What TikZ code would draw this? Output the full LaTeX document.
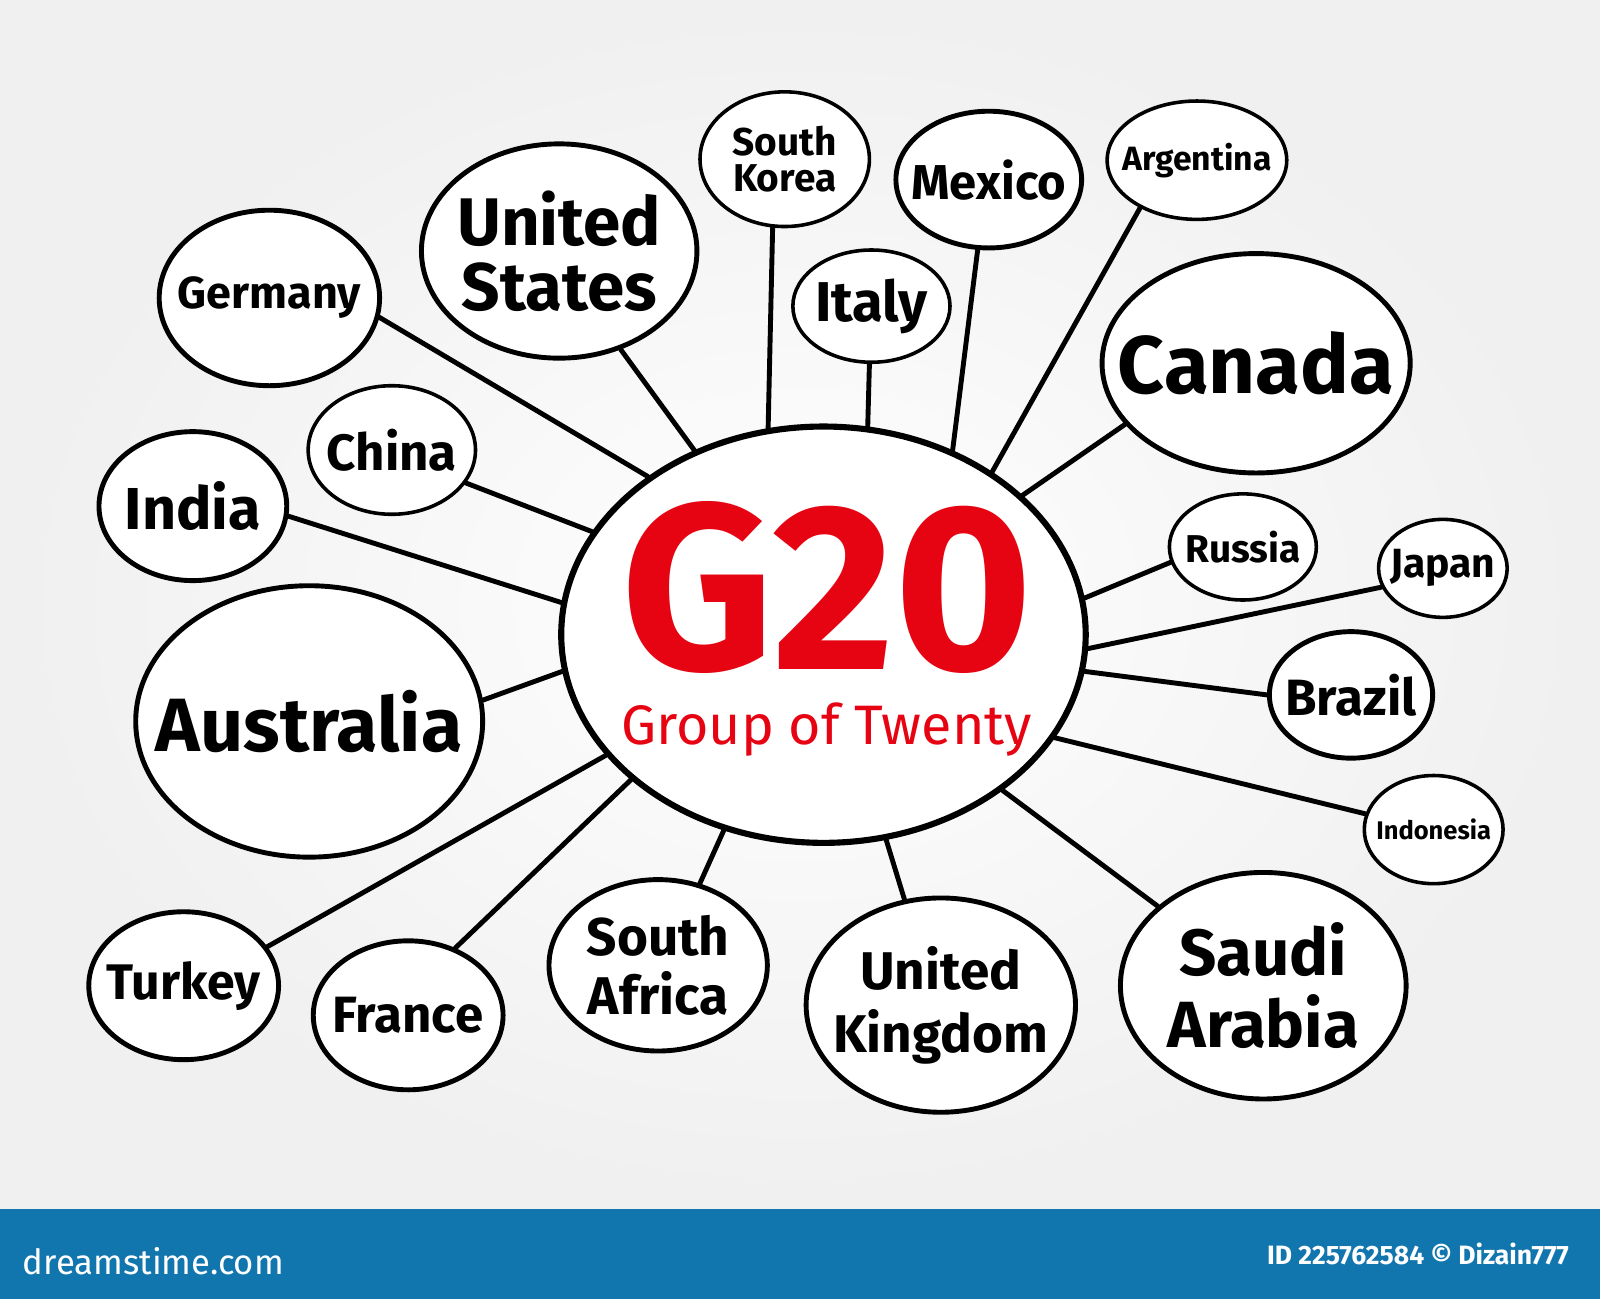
\documentclass[tikz,border=0pt]{standalone}
\usepackage{fontspec}
\setmainfont{Fira Sans}
\usetikzlibrary{shapes.geometric}
\definecolor{gred}{RGB}{230,4,18}
\definecolor{banner}{RGB}{17,118,174}
\tikzset{
  bub/.style={draw=black, line width=4.8pt, ellipse, fill=white, inner sep=0pt},
  thin bub/.style={bub, line width=3.5pt},
  lab/.style={inner sep=0pt, align=center, text=black},
  conn/.style={line width=4.8pt, line cap=round},
}
\newcommand{\fs}[1]{\fontsize{#1}{#1}\selectfont}
\newcommand{\fsl}[2]{\fontsize{#1}{#2}\selectfont}
\begin{document}
\begin{tikzpicture}[x=1pt,y=-1pt]
\useasboundingbox (0,0) rectangle (1568,1273);
\shade[inner color=white, outer color=black!6] (0,0) rectangle (1568,1185);
\fill[banner] (0,1185) rectangle (1568,1273);
\node[anchor=west, text=white, font=\fs{34}] (dt) at (19,1236) {dreamstime.com};
\node[anchor=east, text=white, font=\fs{26}\bfseries] (id) at (1541,1229) {ID 225762584 © Dizain777};

% bubbles
\node[bub, line width=6pt, minimum width=514pt, minimum height=408pt] (g20) at (807,622) {};
\node[bub, minimum width=216pt, minimum height=172pt] (ger) at (264,292) {};
\node[bub, minimum width=270pt, minimum height=210pt] (us) at (548,246) {};
\node[thin bub, minimum width=166pt, minimum height=132pt] (sk) at (769,156) {};
\node[bub, minimum width=182pt, minimum height=134pt] (mex) at (969,176) {};
\node[thin bub, minimum width=176pt, minimum height=116pt] (arg) at (1173,157) {};
\node[thin bub, minimum width=154pt, minimum height=110pt] (ita) at (854,300) {};
\node[bub, minimum width=302pt, minimum height=215pt] (can) at (1231,356) {};
\node[thin bub, minimum width=164pt, minimum height=126pt] (chi) at (384,441) {};
\node[bub, minimum width=184pt, minimum height=146pt] (ind) at (189,496) {};
\node[thin bub, minimum width=144pt, minimum height=104pt] (rus) at (1218,536) {};
\node[thin bub, minimum width=126pt, minimum height=96pt] (jap) at (1414,557) {};
\node[bub, minimum width=340pt, minimum height=266pt] (aus) at (303,707) {};
\node[bub, minimum width=160pt, minimum height=124pt] (bra) at (1324,681) {};
\node[thin bub, minimum width=136pt, minimum height=106pt] (ido) at (1405,813) {};
\node[bub, minimum width=186pt, minimum height=145pt] (tur) at (180,966) {};
\node[bub, minimum width=186pt, minimum height=146pt] (fra) at (400,995) {};
\node[bub, minimum width=214pt, minimum height=168pt] (saf) at (645,946) {};
\node[bub, minimum width=264pt, minimum height=210pt] (uk) at (922,985) {};
\node[bub, minimum width=280pt, minimum height=222pt] (sau) at (1238,966) {};

% connectors
\draw[conn] (ger.-10.6) -- (g20.138.5);
\draw[conn] (us.-58.5) -- (g20.125);
\draw[conn] (sk.260) -- (g20.105);
\draw[conn] (ita.268) -- (g20.78);
\draw[conn] (mex.261) -- (g20.55.6);
\draw[conn] (arg.220.5) -- (g20.44.5);
\draw[conn] (can.205.9) -- (g20.35);
\draw[conn] (chi.-24.4) -- (g20.156);
\draw[conn] (ind.-6) -- (g20.173);
\draw[conn] (rus.192.4) -- (g20.8);
\draw[conn] (jap.197) -- (g20.-3);
\draw[conn] (bra.180) -- (g20.-8);
\draw[conn] (ido.167) -- (g20.-24.4);
\draw[conn] (aus.7.4) -- (g20.188.8);
\draw[conn] (tur.25) -- (g20.209);
\draw[conn] (fra.55) -- (g20.217);
\draw[conn] (saf.63.4) -- (g20.243);
\draw[conn] (uk.109) -- (g20.287);
\draw[conn] (sau.143) -- (g20.319);

% texts
\node[lab, text=gred, font=\fs{232}\bfseries, anchor=base] (gt) at (811,656) {G20};
\node[lab, text=gred, font=\fs{54.5}, anchor=base] (gs) at (810,730) {Group of Twenty};
\node[lab, font=\fs{44}\bfseries] (ger-t) at (ger) {Germany};
\node[lab, font=\fsl{66}{64}\bfseries] (us-t) at (us) {United\\States};
\node[lab, font=\fsl{38}{36}\bfseries] (sk-t) at (sk) {South\\Korea};
\node[lab, font=\fs{48}\bfseries] (mex-t) at (mex) {Mexico};
\node[lab, font=\fs{33}\bfseries] (arg-t) at (arg) {Argentina};
\node[lab, font=\fs{55}\bfseries] (ita-t) at (ita) {Italy};
\node[lab, font=\fs{80}\bfseries] (can-t) at (can) {Canada};
\node[lab, font=\fs{50}\bfseries] (chi-t) at (chi) {China};
\node[lab, font=\fs{58}\bfseries] (ind-t) at (ind) {India};
\node[lab, font=\fs{38}\bfseries] (rus-t) at (rus) {Russia};
\node[lab, font=\fs{40}\bfseries] (jap-t) at (jap) {Japan};
\node[lab, font=\fs{74}\bfseries] (aus-t) at (aus) {Australia};
\node[lab, font=\fs{50}\bfseries] (bra-t) at (bra) {Brazil};
\node[lab, font=\fs{25}\bfseries] (ido-t) at (ido) {Indonesia};
\node[lab, font=\fs{49}\bfseries] (tur-t) at (tur) {Turkey};
\node[lab, font=\fs{50}\bfseries] (fra-t) at (fra) {France};
\node[lab, font=\fsl{52}{58}\bfseries] (saf-t) at (saf) {South\\Africa};
\node[lab, font=\fsl{52}{62}\bfseries] (uk-t) at (uk) {United\\Kingdom};
\node[lab, font=\fsl{64}{70}\bfseries] (sau-t) at (sau) {Saudi\\Arabia};
\end{tikzpicture}
\end{document}
